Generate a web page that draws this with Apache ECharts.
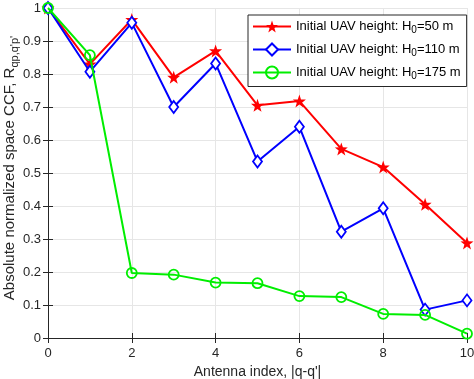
<!DOCTYPE html>
<html><head><meta charset="utf-8">
<script src="https://cdn.jsdelivr.net/npm/echarts@6/dist/echarts.min.js"></script>
<style>html,body{margin:0;padding:0;background:#fff}#c{width:474px;height:379px}</style>
</head><body><div id="c"></div>
<script>
const xValues = [0,1,2,3,4,5,6,7,8,9,10];
const h50 = [1, 0.83, 0.965, 0.79, 0.87, 0.705, 0.718, 0.573, 0.518, 0.405, 0.288];
const h110 = [1, 0.807, 0.955, 0.70, 0.832, 0.535, 0.64, 0.322, 0.393, 0.086, 0.114];
const h175 = [1, 0.857, 0.197, 0.192, 0.168, 0.166, 0.127, 0.124, 0.073, 0.07, 0.013];
const seriesNames = ['Initial UAV height: H{s|0}=50 m','Initial UAV height: H{s|0}=110 m','Initial UAV height: H{s|0}=175 m'];
const yTitle = 'Absolute normalized space CCF, R{s|qp,q\'p\'}';
const xTitle = 'Antenna index, |q-q\'|';
const font = 'Liberation Sans, Arial, Helvetica, sans-serif';
const star = 'path://M0,-10 L2.35,-3.24 9.51,-3.09 3.8,1.24 5.88,8.09 0,4 -5.88,8.09 -3.8,1.24 -9.51,-3.09 -2.35,-3.24Z';
const pairs = a => a.map((v,i)=>[xValues[i], v]);
const chart = echarts.init(document.getElementById('c'), null, {renderer:'canvas'});
const axisCommon = {
  axisLine:{show:true, lineStyle:{color:'#262626', width:1}},
  axisTick:{show:true, inside:true, length:5, lineStyle:{color:'#262626'}},
};
chart.setOption({
  animation:false,
  backgroundColor:'#fff',
  textStyle:{fontFamily:font},
  grid:{left:48, right:7, top:8, bottom:41, outerBoundsMode:'none', containLabel:false},
  graphic:[{
    type:'text', x:10, y:168, rotation:Math.PI/2,
    style:{text:yTitle, fill:'#262626', fontSize:15, fontFamily:font,
      align:'center', verticalAlign:'middle',
      rich:{s:{fontSize:11, fontFamily:font, fill:'#262626', verticalAlign:'bottom', padding:[9,0,0,0]}}}
  }],
  legend:{
    orient:'vertical', left:248, top:15, width:210,
    backgroundColor:'#fff', borderColor:'#262626', borderWidth:1,
    padding:[5,6,5,4], itemGap:7, itemWidth:38, itemHeight:15,
    textStyle:{fontSize:13, color:'#000', fontFamily:font,
      rich:{s:{fontSize:10, verticalAlign:'bottom', padding:[8,0,0,0], fontFamily:font}}},
    data: seriesNames,
  },
  xAxis:[
    Object.assign({type:'value', min:0, max:10, interval:2, position:'bottom',
      name:xTitle, nameLocation:'middle', nameGap:26,
      nameTextStyle:{fontSize:14, color:'#262626'},
      axisLabel:{fontSize:13, color:'#262626', margin:9},
      splitLine:{show:true, lineStyle:{color:'#e6e6e6'}}}, axisCommon),
    Object.assign({type:'value', min:0, max:10, interval:2, position:'top',
      axisLabel:{show:false}, splitLine:{show:false}}, axisCommon)
  ],
  yAxis:[
    Object.assign({type:'value', min:0, max:1, interval:0.1, position:'left',
      axisLabel:{fontSize:13, color:'#262626', margin:7,
        formatter: v => String(Math.round(v*10)/10)},
      splitLine:{show:true, lineStyle:{color:'#e6e6e6'}}}, axisCommon),
    Object.assign({type:'value', min:0, max:1, interval:0.1, position:'right',
      axisLabel:{show:false}, splitLine:{show:false}}, axisCommon)
  ],
  series:[
    {name:seriesNames[0], type:'line', data:pairs(h50), color:'#ff0000',
      lineStyle:{width:2, color:'#ff0000'}, symbol:star, symbolSize:13,
      itemStyle:{color:'#ff0000', borderWidth:0}, z:3},
    {name:seriesNames[1], type:'line', data:pairs(h110), color:'#0000ff',
      lineStyle:{width:2, color:'#0000ff'}, symbol:'diamond', symbolSize:[9,12],
      itemStyle:{color:'#fff', borderColor:'#0000ff', borderWidth:1.8}, z:4},
    {name:seriesNames[2], type:'line', data:pairs(h175), color:'#00ee00',
      lineStyle:{width:2, color:'#00ee00'}, symbol:'circle', symbolSize:10,
      itemStyle:{color:'rgba(255,255,255,0)', borderColor:'#00ee00', borderWidth:1.8}, z:5}
  ]
});
</script></body></html>
